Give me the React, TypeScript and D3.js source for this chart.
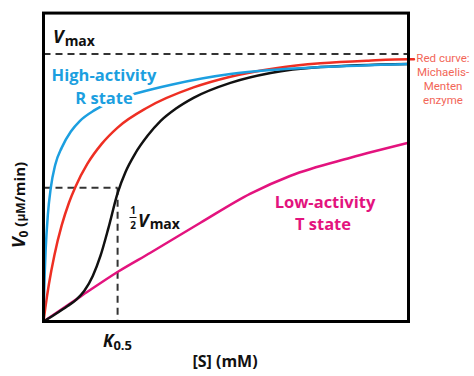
import React from "react";
import * as d3 from "d3";

// [S] values (arbitrary units, 0..10) and V0 (fraction of Vmax)
const blueS = [0, 0.02, 0.06, 0.12, 0.2, 0.32, 0.5, 0.75, 1.0, 1.4, 2.0, 2.58, 3.5, 5.12, 6.22, 7.59, 10];
const blueV = [0, 0.12, 0.27, 0.4, 0.5, 0.585, 0.65, 0.71, 0.75, 0.79, 0.83, 0.854, 0.885, 0.925, 0.94, 0.951, 0.963];

const redS = [0, 0.05, 0.15, 0.3, 0.5, 0.7, 0.88, 1.2, 1.6, 2.03, 2.85, 4.11, 5.12, 6.41, 7.59, 8.9, 10, 10.15];
const redV = [0, 0.051, 0.141, 0.249, 0.36, 0.445, 0.505, 0.589, 0.665, 0.725, 0.8, 0.875, 0.915, 0.948, 0.965, 0.975, 0.98, 0.98];

const blackS = [0, 0.33, 0.66, 0.9, 1.12, 1.35, 1.56, 1.78, 2.03, 2.25, 2.5, 2.85, 3.21, 3.62, 4.11, 5.12, 6.22, 7.59, 10];
const blackV = [0, 0.028, 0.058, 0.082, 0.115, 0.17, 0.245, 0.35, 0.48, 0.56, 0.625, 0.694, 0.75, 0.795, 0.836, 0.892, 0.929, 0.951, 0.963];

const magS = [0, 1.01, 2.05, 2.93, 4.3, 5.67, 6.77, 8.41, 10];
const magV = [0, 0.093, 0.187, 0.257, 0.369, 0.478, 0.545, 0.612, 0.668];

const VMAX = 1;
const K05 = 2.03;
const X_MAX = 10;
const Y_TOP = 1.153;

const redNote = ["Red curve:", "Michaelis-", "Menten", "enzyme"];

const BLUE = "#1c9fe0";
const RED = "#ee2f23";
const BLACK = "#111111";
const MAGENTA = "#e3137e";
const NOTE = "#f26658";
const FONT = "'Open Sans', 'Noto Sans', sans-serif";

export default function App() {
  const x = d3.scaleLinear().domain([0, X_MAX]).range([43.5, 408.5]);
  const y = d3.scaleLinear().domain([0, VMAX]).range([321.5, 54]);
  const line = d3
    .line<[number, number]>()
    .x((d) => x(d[0]))
    .y((d) => y(d[1]))
    .curve(d3.curveMonotoneX);
  const zip = (a: number[], b: number[]) => a.map((v, i) => [v, b[i]] as [number, number]);

  const halo = { paintOrder: "stroke", stroke: "#fff", strokeWidth: 6, strokeLinejoin: "round" as const };

  return (
    <svg
      width={474}
      height={376}
      style={{ position: "absolute", left: 0, top: 0, background: "#fff" }}
      fontFamily={FONT}
    >
      {/* dashed guides */}
      <g stroke="#333" strokeWidth={2} strokeDasharray="7,5" fill="none">
        <line x1={x(0)} x2={x(X_MAX)} y1={y(VMAX)} y2={y(VMAX)} />
        <line x1={x(0)} x2={x(K05)} y1={y(VMAX / 2)} y2={y(VMAX / 2)} />
        <line x1={x(K05)} x2={x(K05)} y1={y(VMAX / 2)} y2={y(0)} />
      </g>

      {/* curves */}
      <g fill="none" strokeWidth={2.5} strokeLinecap="round">
        <path d={line(zip(magS, magV)) || ""} stroke={MAGENTA} />
        <path d={line(zip(blackS, blackV)) || ""} stroke={BLACK} />
        <path d={line(zip(redS, redV)) || ""} stroke={RED} />
        <path d={line(zip(blueS, blueV)) || ""} stroke={BLUE} />
      </g>

      {/* frame */}
      <rect
        x={x(0)}
        y={y(Y_TOP)}
        width={x(X_MAX) - x(0)}
        height={y(0) - y(Y_TOP)}
        fill="none"
        stroke="#000"
        strokeWidth={3}
      />

      {/* Vmax label */}
      <text x={53} y={43} fontWeight={700} fill="#111">
        <tspan fontSize={18} fontStyle="italic">V</tspan>
        <tspan fontSize={14} dy={3} dx={1}>max</tspan>
      </text>

      {/* High-activity label */}
      <g fill={BLUE} fontWeight={700} fontSize={16.5} textAnchor="middle" style={halo}>
        <text x={104} y={81}>High-activity</text>
        <text x={104} y={104}>R state</text>
      </g>

      {/* Low-activity label */}
      <g fill={MAGENTA} fontWeight={700} fontSize={16.5} textAnchor="middle">
        <text x={325} y={208}>Low-activity</text>
        <text x={323} y={230}>T state</text>
      </g>

      {/* 1/2 Vmax */}
      <g fill="#111" fontWeight={700}>
        <text x={133} y={213.5} fontSize={10} textAnchor="middle">1</text>
        <line x1={129.5} x2={136.5} y1={217.5} y2={217.5} stroke="#111" strokeWidth={1} />
        <text x={133} y={228.5} fontSize={10} textAnchor="middle">2</text>
        <text x={138} y={227}>
          <tspan fontSize={18} fontStyle="italic">V</tspan>
          <tspan fontSize={14} dy={2} dx={1}>max</tspan>
        </text>
      </g>

      {/* K0.5 */}
      <text x={103} y={347} fill="#111" fontWeight={700}>
        <tspan fontSize={17} fontStyle="italic">K</tspan>
        <tspan fontSize={13} dy={3}>0.5</tspan>
      </text>

      {/* x axis title */}
      <text x={225} y={367} fill="#111" fontWeight={700} fontSize={16} textAnchor="middle">
        [S] (mM)
      </text>

      {/* y axis title */}
      <text
        transform="translate(25,205) rotate(-90)"
        fill="#111"
        fontWeight={700}
        textAnchor="middle"
      >
        <tspan fontSize={18} fontStyle="italic">V</tspan>
        <tspan fontSize={12} dy={3}>0</tspan>
        <tspan fontSize={15} dy={-3}> (</tspan>
        <tspan fontSize={12}>μM</tspan>
        <tspan fontSize={15}>/min)</tspan>
      </text>

      {/* red curve note */}
      <g fill={NOTE} fontSize={11.5} fontWeight={400} textAnchor="middle" fontFamily="Roboto, sans-serif">
        {redNote.map((t, i) => (
          <text key={t} x={443} y={62 + i * 14}>
            {t}
          </text>
        ))}
      </g>
    </svg>
  );
}
